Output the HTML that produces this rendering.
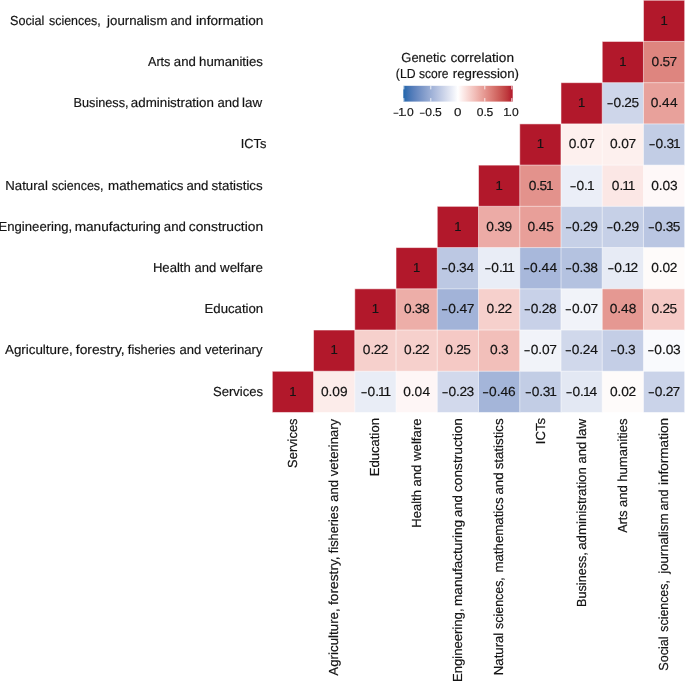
<!DOCTYPE html>
<html><head><meta charset="utf-8"><title>Genetic correlation</title>
<style>html,body{margin:0;padding:0;background:#fff}svg{display:block}text{font-family:"Liberation Sans",sans-serif;fill:#141414;text-rendering:geometricPrecision;stroke:#141414;stroke-width:0.18px}</style></head><body>
<svg width="685" height="681" viewBox="0 0 685 681">
<defs><linearGradient id="g" x1="0" x2="1" y1="0" y2="0">
<stop offset="0.00" stop-color="#2166ac"/>
<stop offset="0.05" stop-color="#4374b4"/>
<stop offset="0.10" stop-color="#5d82bd"/>
<stop offset="0.15" stop-color="#7391c5"/>
<stop offset="0.20" stop-color="#88a0cd"/>
<stop offset="0.25" stop-color="#9cafd6"/>
<stop offset="0.30" stop-color="#b0bede"/>
<stop offset="0.35" stop-color="#c4cee6"/>
<stop offset="0.40" stop-color="#d8deee"/>
<stop offset="0.45" stop-color="#ebeef7"/>
<stop offset="0.50" stop-color="#ffffff"/>
<stop offset="0.55" stop-color="#fce9e7"/>
<stop offset="0.60" stop-color="#f7d4d0"/>
<stop offset="0.65" stop-color="#f2bfba"/>
<stop offset="0.70" stop-color="#eba9a3"/>
<stop offset="0.75" stop-color="#e4948e"/>
<stop offset="0.80" stop-color="#dc7f79"/>
<stop offset="0.85" stop-color="#d26964"/>
<stop offset="0.90" stop-color="#c85250"/>
<stop offset="0.95" stop-color="#be393d"/>
<stop offset="1.00" stop-color="#b2182b"/>
</linearGradient></defs>
<rect width="685" height="681" fill="#fff"/>
<rect x="643.46" y="0.22" width="41.24" height="41.93" fill="#b2182b"/>
<rect x="602.22" y="41.45" width="41.94" height="41.93" fill="#b2182b"/>
<rect x="643.46" y="41.45" width="41.24" height="41.93" fill="#de857f"/>
<rect x="560.98" y="82.67" width="41.94" height="41.93" fill="#b2182b"/>
<rect x="602.22" y="82.67" width="41.94" height="41.93" fill="#ced6ea"/>
<rect x="643.46" y="82.67" width="41.24" height="41.93" fill="#e8a19b"/>
<rect x="519.74" y="123.90" width="41.94" height="41.93" fill="#b2182b"/>
<rect x="560.98" y="123.90" width="41.94" height="41.93" fill="#fdf0ee"/>
<rect x="602.22" y="123.90" width="41.94" height="41.93" fill="#fdf0ee"/>
<rect x="643.46" y="123.90" width="41.24" height="41.93" fill="#c2cde5"/>
<rect x="478.50" y="165.12" width="41.94" height="41.93" fill="#b2182b"/>
<rect x="519.74" y="165.12" width="41.94" height="41.93" fill="#e3928c"/>
<rect x="560.98" y="165.12" width="41.94" height="41.93" fill="#ebeef7"/>
<rect x="602.22" y="165.12" width="41.94" height="41.93" fill="#fbe7e5"/>
<rect x="643.46" y="165.12" width="41.24" height="41.93" fill="#fef8f8"/>
<rect x="437.26" y="206.34" width="41.94" height="41.93" fill="#b2182b"/>
<rect x="478.50" y="206.34" width="41.94" height="41.93" fill="#ecaba6"/>
<rect x="519.74" y="206.34" width="41.94" height="41.93" fill="#e89f99"/>
<rect x="560.98" y="206.34" width="41.94" height="41.93" fill="#c6d0e7"/>
<rect x="602.22" y="206.34" width="41.94" height="41.93" fill="#c6d0e7"/>
<rect x="643.46" y="206.34" width="41.24" height="41.93" fill="#bac6e2"/>
<rect x="396.02" y="247.57" width="41.94" height="41.93" fill="#b2182b"/>
<rect x="437.26" y="247.57" width="41.94" height="41.93" fill="#bcc8e3"/>
<rect x="478.50" y="247.57" width="41.94" height="41.93" fill="#e9edf6"/>
<rect x="519.74" y="247.57" width="41.94" height="41.93" fill="#a8b8db"/>
<rect x="560.98" y="247.57" width="41.94" height="41.93" fill="#b4c2e0"/>
<rect x="602.22" y="247.57" width="41.94" height="41.93" fill="#e7ebf5"/>
<rect x="643.46" y="247.57" width="41.24" height="41.93" fill="#fefbfa"/>
<rect x="354.78" y="288.80" width="41.94" height="41.93" fill="#b2182b"/>
<rect x="396.02" y="288.80" width="41.94" height="41.93" fill="#edaea8"/>
<rect x="437.26" y="288.80" width="41.94" height="41.93" fill="#a2b3d8"/>
<rect x="478.50" y="288.80" width="41.94" height="41.93" fill="#f6d0cc"/>
<rect x="519.74" y="288.80" width="41.94" height="41.93" fill="#c8d1e8"/>
<rect x="560.98" y="288.80" width="41.94" height="41.93" fill="#f1f3f9"/>
<rect x="602.22" y="288.80" width="41.94" height="41.93" fill="#e59892"/>
<rect x="643.46" y="288.80" width="41.24" height="41.93" fill="#f5c9c5"/>
<rect x="313.54" y="330.02" width="41.94" height="41.93" fill="#b2182b"/>
<rect x="354.78" y="330.02" width="41.94" height="41.93" fill="#f6d0cc"/>
<rect x="396.02" y="330.02" width="41.94" height="41.93" fill="#f6d0cc"/>
<rect x="437.26" y="330.02" width="41.94" height="41.93" fill="#f5c9c5"/>
<rect x="478.50" y="330.02" width="41.94" height="41.93" fill="#f2bfba"/>
<rect x="519.74" y="330.02" width="41.94" height="41.93" fill="#f1f3f9"/>
<rect x="560.98" y="330.02" width="41.94" height="41.93" fill="#d0d8eb"/>
<rect x="602.22" y="330.02" width="41.94" height="41.93" fill="#c4cee6"/>
<rect x="643.46" y="330.02" width="41.24" height="41.93" fill="#f9fafd"/>
<rect x="272.30" y="371.25" width="41.94" height="41.23" fill="#b2182b"/>
<rect x="313.54" y="371.25" width="41.94" height="41.23" fill="#fcecea"/>
<rect x="354.78" y="371.25" width="41.94" height="41.23" fill="#e9edf6"/>
<rect x="396.02" y="371.25" width="41.94" height="41.23" fill="#fef6f6"/>
<rect x="437.26" y="371.25" width="41.94" height="41.23" fill="#d2d9ec"/>
<rect x="478.50" y="371.25" width="41.94" height="41.23" fill="#a4b5d9"/>
<rect x="519.74" y="371.25" width="41.94" height="41.23" fill="#c2cde5"/>
<rect x="560.98" y="371.25" width="41.94" height="41.23" fill="#e3e8f3"/>
<rect x="602.22" y="371.25" width="41.94" height="41.23" fill="#fefbfa"/>
<rect x="643.46" y="371.25" width="41.24" height="41.23" fill="#cad3e9"/>
<path d="M272.30 371.25V412.47M313.54 330.02V412.47M354.78 288.80V412.47M396.02 247.57V412.47M437.26 206.34V412.47M478.50 165.12V412.47M519.74 123.90V412.47M560.98 82.67V412.47M602.22 41.45V412.47M643.46 0.22V412.47M684.70 0.22V412.47M643.46 0.22H684.70M602.22 41.45H684.70M560.98 82.67H684.70M519.74 123.90H684.70M478.50 165.12H684.70M437.26 206.34H684.70M396.02 247.57H684.70M354.78 288.80H684.70M313.54 330.02H684.70M272.30 371.25H684.70M272.30 412.47H684.70" fill="none" stroke="#fff" stroke-width="0.90" stroke-opacity="0.60"/>
<text x="660.51" y="25.00" font-size="13.10" textLength="7.29" lengthAdjust="spacingAndGlyphs">1</text>
<text x="619.27" y="66.00" font-size="13.10" textLength="7.29" lengthAdjust="spacingAndGlyphs">1</text>
<text transform="scale(1.050,1)" y="66.00" font-size="13.10"><tspan x="620.58 627.78 630.96 637.52">0.57</tspan></text>
<text x="578.03" y="107.00" font-size="13.10" textLength="7.29" lengthAdjust="spacingAndGlyphs">1</text>
<text transform="scale(1.050,1)" y="107.00" font-size="13.10"><tspan x="578.06" dy="1.00" textLength="5.88" lengthAdjust="spacingAndGlyphs">−</tspan><tspan x="584.28 591.48 594.65 601.33" dy="-1.00">0.25</tspan></text>
<text transform="scale(1.050,1)" y="107.00" font-size="13.10"><tspan x="619.68 626.88 630.52 638.05">0.44</tspan></text>
<text x="536.79" y="148.00" font-size="13.10" textLength="7.29" lengthAdjust="spacingAndGlyphs">1</text>
<text transform="scale(1.050,1)" y="148.00" font-size="13.10"><tspan x="541.65 548.85 552.41 559.35">0.07</tspan></text>
<text transform="scale(1.050,1)" y="148.00" font-size="13.10"><tspan x="580.93 588.13 591.69 598.62">0.07</tspan></text>
<text transform="scale(1.050,1)" y="148.00" font-size="13.10"><tspan x="618.10" dy="1.00" textLength="5.88" lengthAdjust="spacingAndGlyphs">−</tspan><tspan x="624.32 631.52 634.74 640.86" dy="-1.00">0.31</tspan></text>
<text x="495.55" y="190.00" font-size="13.10" textLength="7.29" lengthAdjust="spacingAndGlyphs">1</text>
<text transform="scale(1.050,1)" y="190.00" font-size="13.10"><tspan x="503.47 510.67 513.85 520.00">0.51</tspan></text>
<text transform="scale(1.050,1)" y="190.00" font-size="13.10"><tspan x="542.88" dy="1.00" textLength="5.88" lengthAdjust="spacingAndGlyphs">−</tspan><tspan x="549.10 556.30 558.97" dy="-1.00">0.1</tspan></text>
<text transform="scale(1.050,1)" y="190.00" font-size="13.10"><tspan x="582.74 589.93 592.60 597.84">0.11</tspan></text>
<text transform="scale(1.050,1)" y="190.00" font-size="13.10"><tspan x="620.16 627.35 630.92 638.00">0.03</tspan></text>
<text x="454.31" y="231.00" font-size="13.10" textLength="7.29" lengthAdjust="spacingAndGlyphs">1</text>
<text transform="scale(1.050,1)" y="231.00" font-size="13.10"><tspan x="463.19 470.39 473.61 480.46">0.39</tspan></text>
<text transform="scale(1.050,1)" y="231.00" font-size="13.10"><tspan x="502.28 509.48 513.12 520.18">0.45</tspan></text>
<text transform="scale(1.050,1)" y="231.00" font-size="13.10"><tspan x="538.55" dy="1.00" textLength="5.88" lengthAdjust="spacingAndGlyphs">−</tspan><tspan x="544.77 551.97 555.13 562.04" dy="-1.00">0.29</tspan></text>
<text transform="scale(1.050,1)" y="231.00" font-size="13.10"><tspan x="577.82" dy="1.00" textLength="5.88" lengthAdjust="spacingAndGlyphs">−</tspan><tspan x="584.05 591.24 594.41 601.32" dy="-1.00">0.29</tspan></text>
<text transform="scale(1.050,1)" y="231.00" font-size="13.10"><tspan x="617.34" dy="1.00" textLength="5.88" lengthAdjust="spacingAndGlyphs">−</tspan><tspan x="623.56 630.76 633.97 640.61" dy="-1.00">0.35</tspan></text>
<text x="413.07" y="272.00" font-size="13.10" textLength="7.29" lengthAdjust="spacingAndGlyphs">1</text>
<text transform="scale(1.050,1)" y="272.00" font-size="13.10"><tspan x="420.53" dy="1.00" textLength="5.88" lengthAdjust="spacingAndGlyphs">−</tspan><tspan x="426.75 433.95 437.16 444.26" dy="-1.00">0.34</tspan></text>
<text transform="scale(1.050,1)" y="272.00" font-size="13.10"><tspan x="461.71" dy="1.00" textLength="5.88" lengthAdjust="spacingAndGlyphs">−</tspan><tspan x="467.93 475.13 477.80 483.04" dy="-1.00">0.11</tspan></text>
<text transform="scale(1.050,1)" y="272.00" font-size="13.10"><tspan x="498.65" dy="1.00" textLength="5.88" lengthAdjust="spacingAndGlyphs">−</tspan><tspan x="504.87 512.07 515.72 523.24" dy="-1.00">0.44</tspan></text>
<text transform="scale(1.050,1)" y="272.00" font-size="13.10"><tspan x="538.59" dy="1.00" textLength="5.88" lengthAdjust="spacingAndGlyphs">−</tspan><tspan x="544.82 552.02 555.23 562.06" dy="-1.00">0.38</tspan></text>
<text transform="scale(1.050,1)" y="272.00" font-size="13.10"><tspan x="578.77" dy="1.00" textLength="5.88" lengthAdjust="spacingAndGlyphs">−</tspan><tspan x="585.00 592.20 594.87 600.60" dy="-1.00">0.12</tspan></text>
<text transform="scale(1.050,1)" y="272.00" font-size="13.10"><tspan x="620.16 627.35 630.92 637.95">0.02</tspan></text>
<text x="371.83" y="313.00" font-size="13.10" textLength="7.29" lengthAdjust="spacingAndGlyphs">1</text>
<text transform="scale(1.050,1)" y="313.00" font-size="13.10"><tspan x="384.69 391.89 395.10 401.93">0.38</tspan></text>
<text transform="scale(1.050,1)" y="313.00" font-size="13.10"><tspan x="420.57" dy="1.00" textLength="5.88" lengthAdjust="spacingAndGlyphs">−</tspan><tspan x="426.80 434.00 437.64 444.59" dy="-1.00">0.47</tspan></text>
<text transform="scale(1.050,1)" y="313.00" font-size="13.10"><tspan x="463.43 470.63 473.80 480.46">0.22</tspan></text>
<text transform="scale(1.050,1)" y="313.00" font-size="13.10"><tspan x="499.32" dy="1.00" textLength="5.88" lengthAdjust="spacingAndGlyphs">−</tspan><tspan x="505.54 512.74 515.91 522.78" dy="-1.00">0.28</tspan></text>
<text transform="scale(1.050,1)" y="313.00" font-size="13.10"><tspan x="538.45" dy="1.00" textLength="5.88" lengthAdjust="spacingAndGlyphs">−</tspan><tspan x="544.67 551.87 555.44 562.37" dy="-1.00">0.07</tspan></text>
<text transform="scale(1.050,1)" y="313.00" font-size="13.10"><tspan x="580.64 587.84 591.48 598.74">0.48</tspan></text>
<text transform="scale(1.050,1)" y="313.00" font-size="13.10"><tspan x="620.54 627.73 630.90 637.58">0.25</tspan></text>
<text x="330.59" y="354.00" font-size="13.10" textLength="7.29" lengthAdjust="spacingAndGlyphs">1</text>
<text transform="scale(1.050,1)" y="354.00" font-size="13.10"><tspan x="345.60 352.80 355.97 362.63">0.22</tspan></text>
<text transform="scale(1.050,1)" y="354.00" font-size="13.10"><tspan x="384.88 392.08 395.24 401.91">0.22</tspan></text>
<text transform="scale(1.050,1)" y="354.00" font-size="13.10"><tspan x="424.16 431.35 434.52 441.20">0.25</tspan></text>
<text transform="scale(1.050,1)" y="354.00" font-size="13.10"><tspan x="466.76 473.96 477.18">0.3</tspan></text>
<text transform="scale(1.050,1)" y="354.00" font-size="13.10"><tspan x="499.17" dy="1.00" textLength="5.88" lengthAdjust="spacingAndGlyphs">−</tspan><tspan x="505.40 512.60 516.16 523.10" dy="-1.00">0.07</tspan></text>
<text transform="scale(1.050,1)" y="354.00" font-size="13.10"><tspan x="538.36" dy="1.00" textLength="5.88" lengthAdjust="spacingAndGlyphs">−</tspan><tspan x="544.58 551.78 554.94 562.09" dy="-1.00">0.24</tspan></text>
<text transform="scale(1.050,1)" y="354.00" font-size="13.10"><tspan x="581.39" dy="1.00" textLength="5.88" lengthAdjust="spacingAndGlyphs">−</tspan><tspan x="587.62 594.82 598.03" dy="-1.00">0.3</tspan></text>
<text transform="scale(1.050,1)" y="354.00" font-size="13.10"><tspan x="616.96" dy="1.00" textLength="5.88" lengthAdjust="spacingAndGlyphs">−</tspan><tspan x="623.18 630.38 633.94 641.02" dy="-1.00">0.03</tspan></text>
<text x="289.35" y="396.00" font-size="13.10" textLength="7.29" lengthAdjust="spacingAndGlyphs">1</text>
<text transform="scale(1.050,1)" y="396.00" font-size="13.10"><tspan x="305.71 312.91 316.47 323.74">0.09</tspan></text>
<text transform="scale(1.050,1)" y="396.00" font-size="13.10"><tspan x="343.88" dy="1.00" textLength="5.88" lengthAdjust="spacingAndGlyphs">−</tspan><tspan x="350.10 357.30 359.97 365.21" dy="-1.00">0.11</tspan></text>
<text transform="scale(1.050,1)" y="396.00" font-size="13.10"><tspan x="384.07 391.27 394.83 402.34">0.04</tspan></text>
<text transform="scale(1.050,1)" y="396.00" font-size="13.10"><tspan x="420.96" dy="1.00" textLength="5.88" lengthAdjust="spacingAndGlyphs">−</tspan><tspan x="427.18 434.38 437.54 444.26" dy="-1.00">0.23</tspan></text>
<text transform="scale(1.050,1)" y="396.00" font-size="13.10"><tspan x="459.56" dy="1.00" textLength="5.88" lengthAdjust="spacingAndGlyphs">−</tspan><tspan x="465.79 472.99 476.63 483.88" dy="-1.00">0.46</tspan></text>
<text transform="scale(1.050,1)" y="396.00" font-size="13.10"><tspan x="500.27" dy="1.00" textLength="5.88" lengthAdjust="spacingAndGlyphs">−</tspan><tspan x="506.49 513.69 516.91 523.03" dy="-1.00">0.31</tspan></text>
<text transform="scale(1.050,1)" y="396.00" font-size="13.10"><tspan x="539.07" dy="1.00" textLength="5.88" lengthAdjust="spacingAndGlyphs">−</tspan><tspan x="545.29 552.49 555.16 561.37" dy="-1.00">0.14</tspan></text>
<text transform="scale(1.050,1)" y="396.00" font-size="13.10"><tspan x="580.88 588.08 591.64 598.67">0.02</tspan></text>
<text transform="scale(1.050,1)" y="396.00" font-size="13.10"><tspan x="617.38" dy="1.00" textLength="5.88" lengthAdjust="spacingAndGlyphs">−</tspan><tspan x="623.61 630.81 633.97 640.54" dy="-1.00">0.27</tspan></text>
<text y="25" font-size="13.10"><tspan x="10.03" textLength="34.40" lengthAdjust="spacingAndGlyphs">Social</tspan> <tspan x="49.06" textLength="51.67" lengthAdjust="spacingAndGlyphs">sciences,</tspan> <tspan x="107.13" textLength="60.33" lengthAdjust="spacingAndGlyphs">journalism</tspan> <tspan x="170.46" textLength="21.36" lengthAdjust="spacingAndGlyphs">and</tspan> <tspan x="196.08" textLength="67.19" lengthAdjust="spacingAndGlyphs">information</tspan></text>
<text y="66" font-size="13.10"><tspan x="147.97" textLength="22.48" lengthAdjust="spacingAndGlyphs">Arts</tspan> <tspan x="173.84" textLength="22.00" lengthAdjust="spacingAndGlyphs">and</tspan> <tspan x="199.11" textLength="63.77" lengthAdjust="spacingAndGlyphs">humanities</tspan></text>
<text y="107" font-size="13.10"><tspan x="73.55" textLength="55.00" lengthAdjust="spacingAndGlyphs">Business,</tspan> <tspan x="130.83" textLength="83.00" lengthAdjust="spacingAndGlyphs">administration</tspan> <tspan x="217.45" textLength="21.78" lengthAdjust="spacingAndGlyphs">and</tspan> <tspan x="242.10" textLength="20.08" lengthAdjust="spacingAndGlyphs">law</tspan></text>
<text y="148" font-size="13.10"><tspan x="240.81" textLength="25.64" lengthAdjust="spacingAndGlyphs">ICTs</tspan></text>
<text y="190" font-size="13.10"><tspan x="5.31" textLength="42.56" lengthAdjust="spacingAndGlyphs">Natural</tspan> <tspan x="51.66" textLength="51.88" lengthAdjust="spacingAndGlyphs">sciences,</tspan> <tspan x="108.14" textLength="75.34" lengthAdjust="spacingAndGlyphs">mathematics</tspan> <tspan x="186.44" textLength="22.00" lengthAdjust="spacingAndGlyphs">and</tspan> <tspan x="211.63" textLength="51.02" lengthAdjust="spacingAndGlyphs">statistics</tspan></text>
<text y="231" font-size="13.10"><tspan x="-1.48" textLength="73.67" lengthAdjust="spacingAndGlyphs">Engineering,</tspan> <tspan x="74.72" textLength="86.16" lengthAdjust="spacingAndGlyphs">manufacturing</tspan> <tspan x="163.84" textLength="22.00" lengthAdjust="spacingAndGlyphs">and</tspan> <tspan x="188.81" textLength="74.27" lengthAdjust="spacingAndGlyphs">construction</tspan></text>
<text y="272" font-size="13.10"><tspan x="152.92" textLength="37.91" lengthAdjust="spacingAndGlyphs">Health</tspan> <tspan x="194.45" textLength="21.78" lengthAdjust="spacingAndGlyphs">and</tspan> <tspan x="220.03" textLength="42.95" lengthAdjust="spacingAndGlyphs">welfare</tspan></text>
<text y="313" font-size="13.10"><tspan x="204.51" textLength="58.72" lengthAdjust="spacingAndGlyphs">Education</tspan></text>
<text y="354" font-size="13.10"><tspan x="4.97" textLength="67.64" lengthAdjust="spacingAndGlyphs">Agriculture,</tspan> <tspan x="75.83" textLength="48.82" lengthAdjust="spacingAndGlyphs">forestry,</tspan> <tspan x="127.84" textLength="47.59" lengthAdjust="spacingAndGlyphs">fisheries</tspan> <tspan x="179.45" textLength="21.78" lengthAdjust="spacingAndGlyphs">and</tspan> <tspan x="204.97" textLength="57.48" lengthAdjust="spacingAndGlyphs">veterinary</tspan></text>
<text y="396" font-size="13.10"><tspan x="213.01" textLength="50.04" lengthAdjust="spacingAndGlyphs">Services</tspan></text>
<text y="0" font-size="13.10" transform="translate(297.42,0) rotate(-90)"><tspan x="-467.88" textLength="49.43" lengthAdjust="spacingAndGlyphs">Services</tspan></text>
<text y="0" font-size="13.10" transform="translate(338.36,0) rotate(-90)"><tspan x="-675.73" textLength="67.48" lengthAdjust="spacingAndGlyphs">Agriculture,</tspan> <tspan x="-605.04" textLength="48.70" lengthAdjust="spacingAndGlyphs">forestry,</tspan> <tspan x="-553.15" textLength="47.48" lengthAdjust="spacingAndGlyphs">fisheries</tspan> <tspan x="-501.66" textLength="21.73" lengthAdjust="spacingAndGlyphs">and</tspan> <tspan x="-476.20" textLength="57.34" lengthAdjust="spacingAndGlyphs">veterinary</tspan></text>
<text y="0" font-size="13.10" transform="translate(379.40,0) rotate(-90)"><tspan x="-476.18" textLength="58.10" lengthAdjust="spacingAndGlyphs">Education</tspan></text>
<text y="0" font-size="13.10" transform="translate(420.84,0) rotate(-90)"><tspan x="-527.78" textLength="37.70" lengthAdjust="spacingAndGlyphs">Health</tspan> <tspan x="-486.48" textLength="21.66" lengthAdjust="spacingAndGlyphs">and</tspan> <tspan x="-461.03" textLength="42.71" lengthAdjust="spacingAndGlyphs">welfare</tspan></text>
<text y="0" font-size="13.10" transform="translate(462.38,0) rotate(-90)"><tspan x="-681.98" textLength="73.50" lengthAdjust="spacingAndGlyphs">Engineering,</tspan> <tspan x="-605.96" textLength="85.97" lengthAdjust="spacingAndGlyphs">manufacturing</tspan> <tspan x="-517.04" textLength="21.95" lengthAdjust="spacingAndGlyphs">and</tspan> <tspan x="-492.12" textLength="74.10" lengthAdjust="spacingAndGlyphs">construction</tspan></text>
<text y="0" font-size="13.10" transform="translate(502.52,0) rotate(-90)"><tspan x="-675.19" textLength="42.46" lengthAdjust="spacingAndGlyphs">Natural</tspan> <tspan x="-628.95" textLength="51.75" lengthAdjust="spacingAndGlyphs">sciences,</tspan> <tspan x="-572.60" textLength="75.17" lengthAdjust="spacingAndGlyphs">mathematics</tspan> <tspan x="-494.48" textLength="21.95" lengthAdjust="spacingAndGlyphs">and</tspan> <tspan x="-469.35" textLength="50.90" lengthAdjust="spacingAndGlyphs">statistics</tspan></text>
<text y="0" font-size="13.10" transform="translate(544.56,0) rotate(-90)"><tspan x="-444.21" textLength="26.17" lengthAdjust="spacingAndGlyphs">ICTs</tspan></text>
<text y="0" font-size="13.10" transform="translate(586.10,0) rotate(-90)"><tspan x="-606.94" textLength="54.82" lengthAdjust="spacingAndGlyphs">Business,</tspan> <tspan x="-549.85" textLength="82.74" lengthAdjust="spacingAndGlyphs">administration</tspan> <tspan x="-463.51" textLength="21.71" lengthAdjust="spacingAndGlyphs">and</tspan> <tspan x="-438.94" textLength="20.01" lengthAdjust="spacingAndGlyphs">law</tspan></text>
<text y="0" font-size="13.10" transform="translate(627.34,0) rotate(-90)"><tspan x="-532.73" textLength="22.36" lengthAdjust="spacingAndGlyphs">Arts</tspan> <tspan x="-507.00" textLength="21.88" lengthAdjust="spacingAndGlyphs">and</tspan> <tspan x="-481.86" textLength="63.43" lengthAdjust="spacingAndGlyphs">humanities</tspan></text>
<text y="0" font-size="13.10" transform="translate(667.98,0) rotate(-90)"><tspan x="-670.67" textLength="34.32" lengthAdjust="spacingAndGlyphs">Social</tspan> <tspan x="-631.73" textLength="51.55" lengthAdjust="spacingAndGlyphs">sciences,</tspan> <tspan x="-573.80" textLength="60.18" lengthAdjust="spacingAndGlyphs">journalism</tspan> <tspan x="-510.62" textLength="21.31" lengthAdjust="spacingAndGlyphs">and</tspan> <tspan x="-485.06" textLength="67.03" lengthAdjust="spacingAndGlyphs">information</tspan></text>
<text y="62" font-size="13.10"><tspan x="401.35" textLength="44.56" lengthAdjust="spacingAndGlyphs">Genetic</tspan> <tspan x="450.42" textLength="63.55" lengthAdjust="spacingAndGlyphs">correlation</tspan></text>
<text y="78" font-size="13.10"><tspan x="395.83" textLength="19.73" lengthAdjust="spacingAndGlyphs">(LD</tspan> <tspan x="419.07" textLength="29.45" lengthAdjust="spacingAndGlyphs">score</tspan> <tspan x="452.74" textLength="66.25" lengthAdjust="spacingAndGlyphs">regression)</tspan></text>
<rect x="403.3" y="85.8" width="109.4" height="15.8" fill="url(#g)"/>
<path d="M403.80 85.8v3.6M403.80 101.6v-3.5" stroke="#fff" stroke-width="0.85"/>
<text transform="scale(1.050,1)" y="116.00" font-size="11.50"><tspan x="374.50" dy="1.00" textLength="5.17" lengthAdjust="spacingAndGlyphs">−</tspan><tspan x="379.20 384.39 387.53" dy="-1.00">1.0</tspan></text>
<path d="M430.80 85.8v3.6M430.80 101.6v-3.5" stroke="#fff" stroke-width="0.85"/>
<text transform="scale(1.050,1)" y="116.00" font-size="11.50"><tspan x="399.59" dy="1.00" textLength="5.17" lengthAdjust="spacingAndGlyphs">−</tspan><tspan x="405.07 411.40 414.20" dy="-1.00">0.5</tspan></text>
<path d="M457.80 85.8v3.6M457.80 101.6v-3.5" stroke="#fff" stroke-width="0.85"/>
<text x="453.90" y="116.00" font-size="11.50" textLength="7.42" lengthAdjust="spacingAndGlyphs">0</text>
<path d="M484.80 85.8v3.6M484.80 101.6v-3.5" stroke="#fff" stroke-width="0.85"/>
<text transform="scale(1.050,1)" y="116.00" font-size="11.50"><tspan x="454.12 460.45 463.26">0.5</tspan></text>
<path d="M511.80 85.8v3.6M511.80 101.6v-3.5" stroke="#fff" stroke-width="0.85"/>
<text transform="scale(1.050,1)" y="116.00" font-size="11.50"><tspan x="479.30 484.49 487.63">1.0</tspan></text>
</svg></body></html>
